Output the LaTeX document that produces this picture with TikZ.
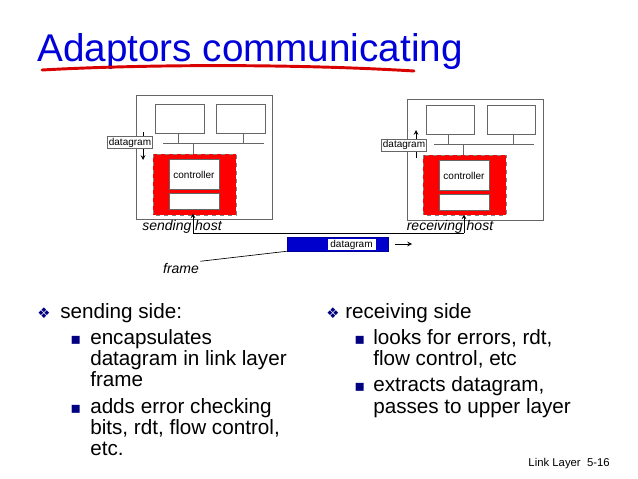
\documentclass[tikz,border=0pt]{standalone}
\usepackage{fontspec}
\setmainfont{Liberation Sans}
\newfontfamily\symfont{DejaVu Sans}
\begin{document}
\begin{tikzpicture}[x=0.75pt,y=-0.75pt,
  gbox/.style={draw=black!60,line width=0.6pt,fill=white},
  redb/.style={draw=black!50,dashed,fill=red,line width=0.5pt},
  gl/.style={draw=black!60,line width=0.6pt},
  lbl/.style={draw=black!60,fill=white,inner sep=1pt,font=\fontsize{7.5pt}{8pt}\selectfont},
  big/.style={anchor=base west,font=\fontsize{15.5pt}{16pt}\selectfont,inner sep=0},
  bsym/.style={anchor=base west,inner sep=0,text=blue!50!black,font=\symfont\fontsize{11pt}{11pt}\selectfont},
  arr/.style={-stealth,line width=0.6pt}]
\useasboundingbox (0,0) rectangle (638,478);
\node[anchor=base west,text=blue!85!black,font=\fontsize{29pt}{32pt}\selectfont,inner sep=0] (title) at (37,61) {Adaptors communicating};
\draw[red!85!black,line width=2.2pt,line cap=round] (42,70) .. controls (150,64) and (300,64) .. (414,71);
% sending host
\draw[gbox] (136,95) rectangle (272,219);
\draw[gbox] (155,104) rectangle (204,133);
\draw[gbox] (216,104) rectangle (265,133);
\draw[gl] (163,143) -- (264,143) (178,133)--(178,143) (243,133)--(243,143) (193,143)--(193,160);
\draw[redb] (153,154) rectangle (236,215);
\node[gbox,minimum width=36pt,minimum height=22pt,font=\fontsize{7.5pt}{8pt}\selectfont] (c1) at (194,174.5) {controller};
\node[gbox,minimum width=37pt,minimum height=12pt] (s1) at (194.5,201) {};
\draw[arr] (143,132) -- (143,160);
\node[lbl] (d1) at (130,142.5) {datagram};
% receiving host
\draw[gbox] (407,99) rectangle (543,220);
\draw[gbox] (426,105) rectangle (474,134);
\draw[gbox] (487,105) rectangle (535,134);
\draw[gl] (434,144) -- (534,144) (448,134)--(448,144) (513,134)--(513,144) (463,144)--(463,161);
\draw[redb] (423,155) rectangle (506,215);
\node[gbox,minimum width=36pt,minimum height=22pt,font=\fontsize{7.5pt}{8pt}\selectfont] (c2) at (464,175.5) {controller};
\node[gbox,minimum width=37pt,minimum height=12pt] (s2) at (464.5,202) {};
\draw[arr] (416,158) -- (416,130);
\node[lbl] (d2) at (404,145) {datagram};
% wire
\coordinate (w1) at (193,233); \coordinate (w2) at (464,233);
\draw[arr] (w1) -- ([yshift=-3]s1.south-|w1);
\draw[arr] (w2) -- ([yshift=-3]s2.south-|w2);
\draw[line width=0.7pt] (w1) -- (w2);
\node[font=\fontsize{10.5pt}{12pt}\selectfont\itshape,inner sep=0] (sh) at (182,227) {sending host};
\node[font=\fontsize{10.5pt}{12pt}\selectfont\itshape,inner sep=0] (rh) at (450,227) {receiving host};
% frame
\node[draw=blue!60!black,fill=blue!80!black,minimum width=75.75pt,minimum height=10.5pt,inner sep=0] (fr) at (337.5,244) {};
\node[lbl,draw=none,minimum width=36pt,minimum height=8pt,inner sep=0] (fd) at (351.5,244.5) {datagram};
\coordinate (a1) at (395,244); \coordinate (a2) at (412,244);
\draw[arr] (a1) -- (a2);
\node[font=\fontsize{10.5pt}{12pt}\selectfont\itshape,inner sep=1pt] (fl) at (181,268) {frame};
\draw[line width=0.5pt] (fl.north east) -- (fr.south west);
% bullets
\node[bsym] (b1) at (37,318) {❖};
\node[big] (t1) at (60,318) {sending side:};
\foreach \y/\t in {344/encapsulates,365/datagram in link layer,386/frame,413/adds error checking,434/bits{,} rdt{,} flow control{,},455/etc.}
  \node[big] at (90,\y) {\t};
\node[bsym,font=\symfont\fontsize{12pt}{12pt}\selectfont] (sb1) at (70,344) {▪};
\node[bsym,font=\symfont\fontsize{12pt}{12pt}\selectfont] (sb2) at (70,413) {▪};
\node[bsym] (b2) at (326,318) {❖};
\node[big] (t2) at (345,318) {receiving side};
\foreach \y/\t in {344/looks for errors{,} rdt{,},365/flow control{,} etc,391/extracts datagram{,},413/passes to upper layer}
  \node[big] at (373,\y) {\t};
\node[bsym,font=\symfont\fontsize{12pt}{12pt}\selectfont] (sb3) at (354,344) {▪};
\node[bsym,font=\symfont\fontsize{12pt}{12pt}\selectfont] (sb4) at (354,391) {▪};
\node[anchor=base east,font=\fontsize{8.5pt}{10pt}\selectfont,inner sep=0] (ft) at (610,466) {Link Layer\ \ 5-16};
\end{tikzpicture}
\end{document}
